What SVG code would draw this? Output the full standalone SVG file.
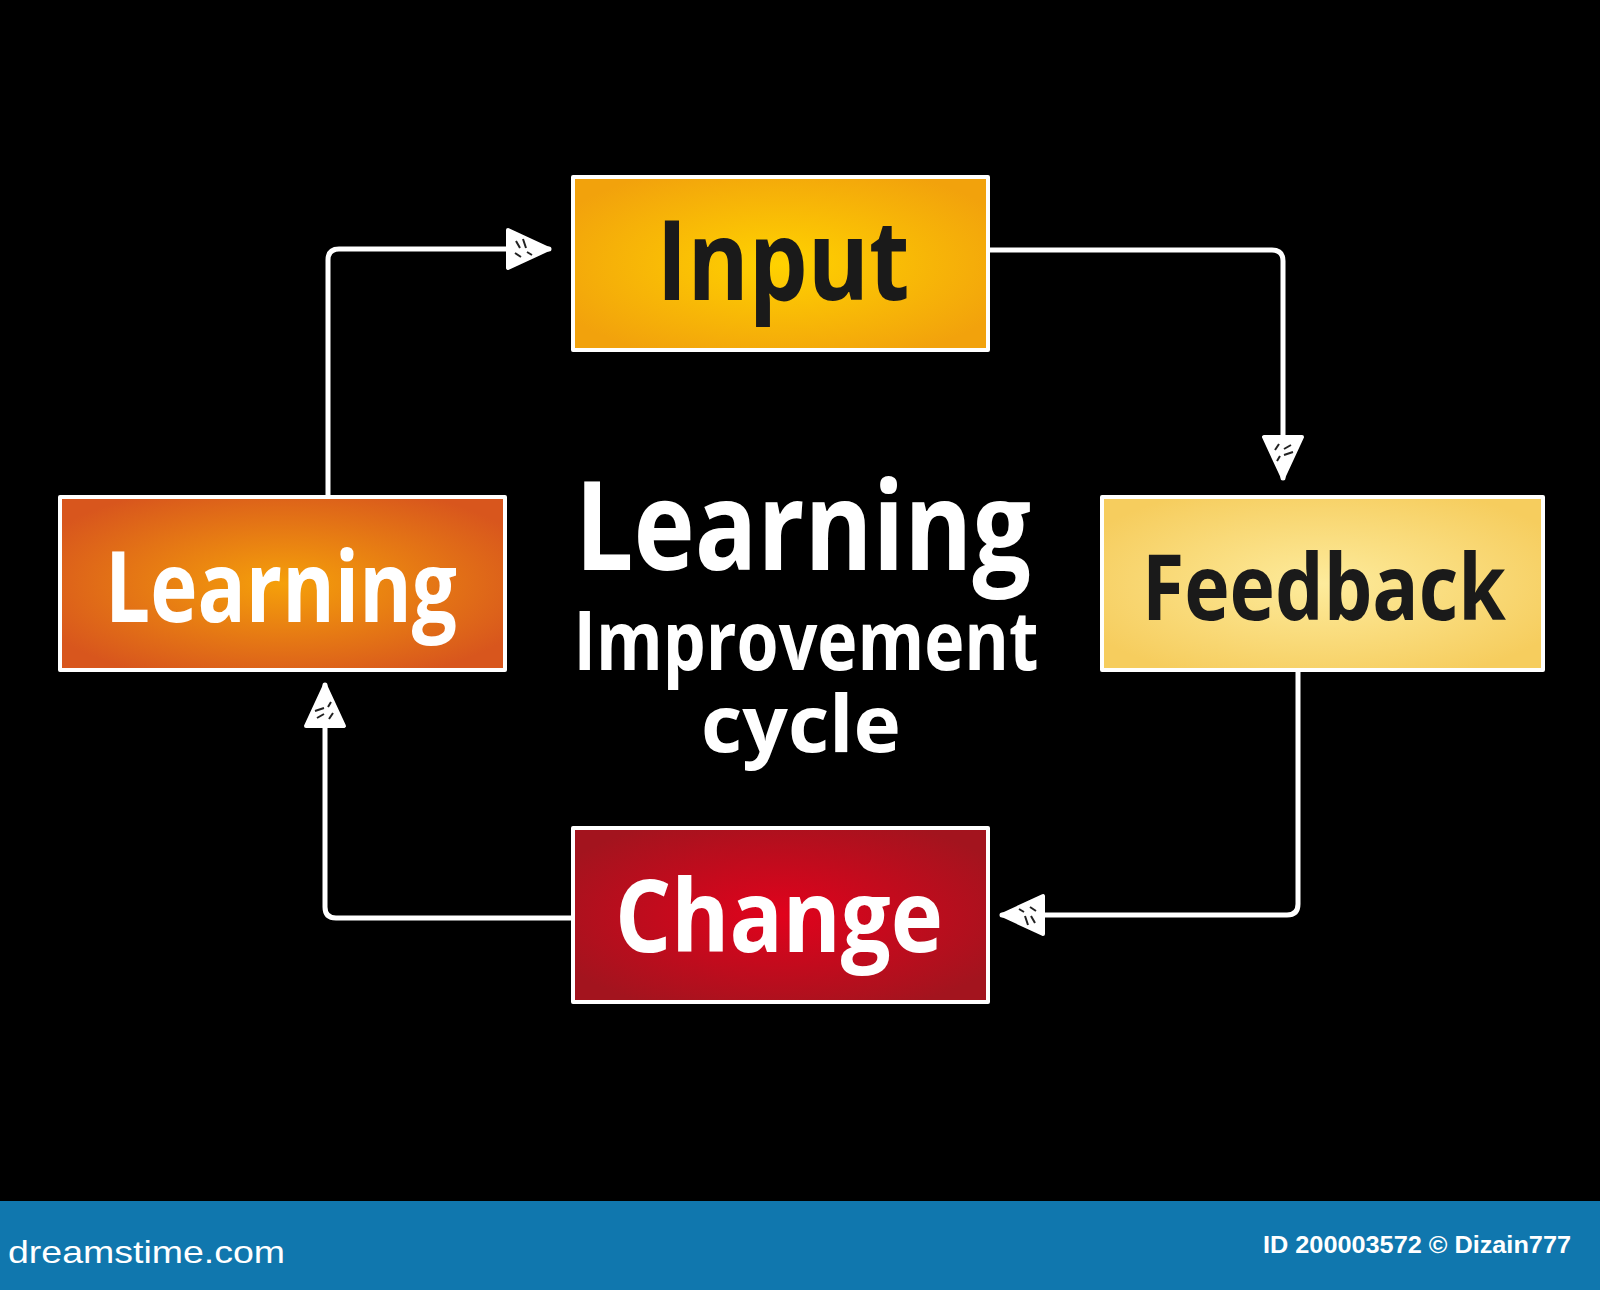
<svg xmlns="http://www.w3.org/2000/svg" width="1600" height="1290" viewBox="0 0 1600 1290">
  <style>
    .box { stroke: #ffffff; stroke-width: 4; stroke-linejoin: round; }
    .lbl { font-family: "Open Sans", "Liberation Sans", sans-serif; font-weight: 700; text-anchor: middle; }
    .conn { fill: none; stroke: #ffffff; stroke-width: 5; stroke-linecap: round; stroke-linejoin: round; }
    .title { font-family: "Open Sans", "Liberation Sans", sans-serif; font-weight: 700; fill: #ffffff; text-anchor: middle; }
    .foot { font-family: "Liberation Sans", "DejaVu Sans", sans-serif; fill: #ffffff; }
  </style>
  <defs>
    <radialGradient id="gInput" cx="50%" cy="50%" r="60%">
      <stop offset="0" stop-color="#FFD200"/>
      <stop offset="1" stop-color="#F2A20C"/>
    </radialGradient>
    <radialGradient id="gLearning" cx="50%" cy="50%" r="60%">
      <stop offset="0" stop-color="#F5A00A"/>
      <stop offset="1" stop-color="#D8561D"/>
    </radialGradient>
    <radialGradient id="gFeedback" cx="50%" cy="50%" r="60%">
      <stop offset="0" stop-color="#FDEB9C"/>
      <stop offset="1" stop-color="#F6CD5E"/>
    </radialGradient>
    <radialGradient id="gChange" cx="50%" cy="50%" r="60%">
      <stop offset="0" stop-color="#E1021C"/>
      <stop offset="1" stop-color="#A3141E"/>
    </radialGradient>
    <marker id="arrow" markerUnits="userSpaceOnUse" markerWidth="48" markerHeight="46" viewBox="0 0 48 46" refX="45" refY="23" orient="auto">
      <path d="M4 4 L45 23 L4 42 Z" fill="#ffffff" stroke="#ffffff" stroke-width="4" stroke-linejoin="round"/>
      <path d="M12 15 l4 7 M19 13 l3 9 M11 27 l6 4 M23 26 l5 3" stroke="#222" stroke-width="2" fill="none"/>
    </marker>
  </defs>

  <rect x="0" y="0" width="1600" height="1290" fill="#000000"/>

  <g id="connectors">
    <path class="conn" d="M328 495 L328 260 Q328 249 339 249 L549 249" marker-end="url(#arrow)"/>
    <path class="conn" d="M990 250 L1272 250 Q1283 250 1283 261 L1283 478" marker-end="url(#arrow)"/>
    <path class="conn" d="M1298 672 L1298 904 Q1298 915 1287 915 L1002 915" marker-end="url(#arrow)"/>
    <path class="conn" d="M571 918 L336 918 Q325 918 325 907 L325 685" marker-end="url(#arrow)"/>
  </g>

  <g id="node-input">
    <rect class="box" x="573" y="177" width="415" height="173" fill="url(#gInput)"/>
    <text class="lbl" x="783" y="300" font-size="112" fill="#1a1a1a" textLength="253" lengthAdjust="spacingAndGlyphs">Input</text>
  </g>

  <g id="node-learning">
    <rect class="box" x="60" y="497" width="445" height="173" fill="url(#gLearning)"/>
    <text class="lbl" x="281" y="622" font-size="98" fill="#ffffff" textLength="352" lengthAdjust="spacingAndGlyphs">Learning</text>
  </g>

  <g id="node-feedback">
    <rect class="box" x="1102" y="497" width="441" height="173" fill="url(#gFeedback)"/>
    <text class="lbl" x="1324" y="620" font-size="92" fill="#1a1a1a" textLength="364" lengthAdjust="spacingAndGlyphs">Feedback</text>
  </g>

  <g id="node-change">
    <rect class="box" x="573" y="828" width="415" height="174" fill="url(#gChange)"/>
    <text class="lbl" x="779" y="952" font-size="100" fill="#ffffff" textLength="328" lengthAdjust="spacingAndGlyphs">Change</text>
  </g>

  <g id="title">
    <text class="title" x="803" y="570" font-size="124" textLength="456" lengthAdjust="spacingAndGlyphs">Learning</text>
    <text class="title" x="806" y="670" font-size="82" textLength="465" lengthAdjust="spacingAndGlyphs">Improvement</text>
    <text class="title" x="801" y="752" font-size="78" textLength="200" lengthAdjust="spacingAndGlyphs">cycle</text>
  </g>

  <g id="footer">
    <rect x="0" y="1201" width="1600" height="89" fill="#1077AE"/>
    <text class="foot" x="8" y="1263" font-size="32" textLength="277" lengthAdjust="spacingAndGlyphs">dreamstime.com</text>
    <text class="foot" x="1571" y="1253" font-size="24" font-weight="700" text-anchor="end" textLength="308" lengthAdjust="spacingAndGlyphs">ID 200003572 © Dizain777</text>
  </g>
</svg>
